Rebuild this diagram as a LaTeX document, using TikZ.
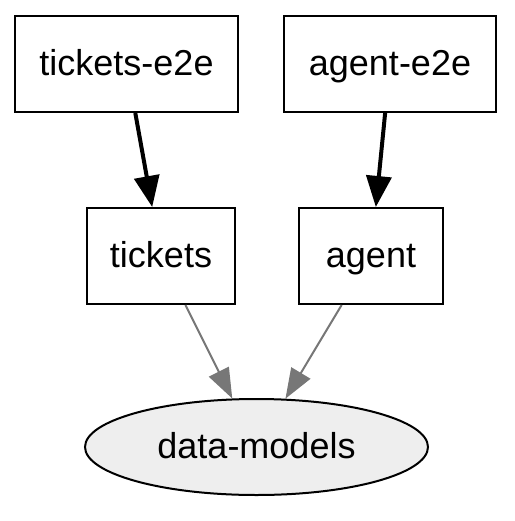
\documentclass[tikz,border=0pt]{standalone}
\usepackage{fontspec}
\setmainfont{Liberation Sans}
\usetikzlibrary{arrows.meta,positioning}
\usetikzlibrary{shapes.geometric}

\definecolor{edgegray}{HTML}{777777}
\definecolor{modelfill}{HTML}{EEEEEE}

\begin{document}
\begin{tikzpicture}
		[x=0.5pt,y=-0.5pt,
		main node/.style={shape=rectangle,draw,line width=1pt,fill=white,minimum height=48pt,inner sep=0pt,text height=13pt,text depth=2pt,font=\fontsize{18}{21.6}\selectfont},
		model node/.style={shape=ellipse,draw,line width=1pt,fill=modelfill,minimum width=171.5pt,minimum height=48pt,inner sep=0pt,text height=13pt,text depth=2pt,font=\fontsize{18}{21.6}\selectfont},
		strong/.style={line width=2pt,-{Triangle[length=15.5pt,width=12.5pt]}},
		weak/.style={line width=1pt,draw=edgegray,-{Triangle[length=15pt,width=11pt,fill=edgegray]}}
		]
		
		\useasboundingbox (0,0) rectangle (515,521);
		
		\node [main node,minimum width=111.5pt] (tickets-e2e) at (126.5, 64) {tickets-e2e};
		\node [main node,minimum width=106pt] (agent-e2e) at (390, 64) {agent-e2e};
		
		\node [main node,minimum width=74pt] (tickets) at (161, 256) {tickets};
		\node [main node,minimum width=72pt] (agent) at (371, 256) {agent};
		
		\node [model node] (data-models) at (256.5, 447) {data-models};
		
		\path[]
		(tickets-e2e) edge[strong] node {} (tickets)
		(agent-e2e) edge[strong] node {} (agent)
		
		(tickets) edge[weak] node {} (data-models)
		(agent) edge[weak] node {} (data-models)
		;
		
		\end{tikzpicture}
\end{document}
